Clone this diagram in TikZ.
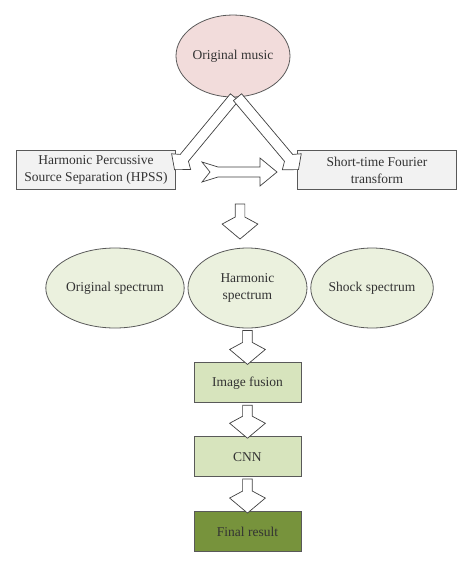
\documentclass[tikz,border=0pt]{standalone}
\usepackage{fontspec}
\setmainfont{Liberation Serif}
\usetikzlibrary{shapes.geometric, shapes.arrows, positioning, calc}
\definecolor{musicpink}{HTML}{F2DCDB}
\definecolor{boxgray}{HTML}{F2F2F2}
\definecolor{speclight}{HTML}{EBF1DE}
\definecolor{stepgreen}{HTML}{D7E4BD}
\definecolor{finalgreen}{HTML}{77933C}

\newcommand{\blockarrow}[3][]{%
  \path let \p1=($(#3)-(#2)$) in
    node[flow arrow, #1, minimum height={veclen(\x1,\y1)}, rotate={atan2(\y1,\x1)}]
    at ($(#2)!0.5!(#3)$) {};}

\begin{document}
\begin{tikzpicture}[x=1pt, y=-1pt,
    every node/.style={font=\fontsize{13.5}{17}\selectfont, text=black!80},
    oval/.style={ellipse, draw=black!65, line width=0.8pt, inner sep=0pt},
    box/.style={rectangle, draw=black!65, line width=0.8pt, align=center, inner sep=0pt},
    flow arrow/.style={single arrow, draw=black!75, fill=white, line width=0.7pt,
        inner xsep=0pt, inner ysep=4.5pt, single arrow head extend=13pt,
        single arrow tip angle=100, single arrow head indent=-7pt},
    diag arrow/.style={inner ysep=5pt, single arrow head extend=7pt,
        single arrow tip angle=100, single arrow head indent=-5pt}]
    \useasboundingbox (0,0) rectangle (474,566);

    \node[oval, fill=musicpink, minimum width=114pt, minimum height=82pt] (music) at (233,56) {Original music};
    \node[box, fill=boxgray, minimum width=159pt, minimum height=39pt] (hpss) at (96,170)
        {Harmonic Percussive\\Source Separation (HPSS)};
    \node[box, fill=boxgray, minimum width=159pt, minimum height=39pt] (stft) at (377,170)
        {Short-time Fourier\\transform};

    \node[oval, fill=speclight, minimum width=120pt, minimum height=80pt] (orig) at (115,288) {Original spectrum};
    \node[oval, fill=speclight, minimum width=119pt, minimum height=80pt, align=center,
        right=3pt of orig] (harm) {Harmonic\\spectrum};
    \node[oval, fill=speclight, minimum width=120pt, minimum height=80pt,
        right=3pt of harm] (shock) {Shock spectrum};

    \node[box, fill=stepgreen, minimum width=107pt, minimum height=40pt, below=34pt of harm] (fusion) {Image fusion};
    \node[box, fill=stepgreen, minimum width=107pt, minimum height=40pt, below=33pt of fusion] (cnn) {CNN};
    \node[box, fill=finalgreen, minimum width=107pt, minimum height=40pt, below=34pt of cnn] (final) {Final result};

    \coordinate (split) at ($(music.south)+(3,-2)$);
    \coordinate (hpss in) at ($(hpss.east)+(0,-2)$);
    \coordinate (stft in) at ($(stft.west)+(0,-2)$);
    \coordinate (down top) at (240,202);
    \coordinate (down tip) at (240,237);
    \coordinate (mid) at (202,172);

    \blockarrow[diag arrow]{split}{hpss in}
    \blockarrow[diag arrow]{split}{stft in}
    \draw[draw=black!75, fill=white, line width=0.7pt] (mid) ++(0,-10) -- ++(16,5) -- ++(42,0)
        -- ++(0,-9) -- ++(17,14) -- ++(-17,14) -- ++(0,-9) -- ++(-42,0) -- ++(-16,5)
        -- ++(8,-10) -- cycle;
    \blockarrow{down top}{down tip}
    \blockarrow{harm.south}{fusion.north}
    \blockarrow{fusion.south}{cnn.north}
    \blockarrow{cnn.south}{final.north}
\end{tikzpicture}
\end{document}
